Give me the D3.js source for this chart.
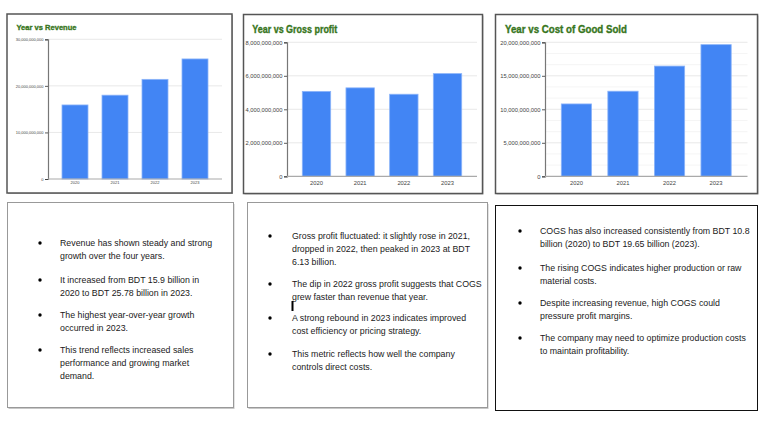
<!DOCTYPE html>
<html>
<head>
<meta charset="utf-8">
<script src="https://cdn.jsdelivr.net/npm/d3@7"></script>
<style>
  body { margin: 0; background: #fff; }
  svg { display: block; font-family: "Liberation Sans", Arial, sans-serif; }
</style>
</head>
<body>
<svg id="chart" width="768" height="432"></svg>
<script>
const years = ["2020", "2021", "2022", "2023"];
const revenue = [15.9e9, 18.0e9, 21.4e9, 25.78e9];
const grossProfit = [5.07e9, 5.28e9, 4.9e9, 6.13e9];
const cogs = [10.8e9, 12.7e9, 16.45e9, 19.65e9];

const revenueTicks = [0, 10e9, 20e9, 30e9];
const profitTicks = [0, 2e9, 4e9, 6e9, 8e9];
const cogsTicks = [0, 5e9, 10e9, 15e9, 20e9];

const titles = ["Year vs Revenue", "Year vs Gross profit", "Year vs Cost of Good Sold"];

const revenueNotes = [
  ["Revenue has shown steady and strong", "growth over the four years."],
  ["It increased from BDT 15.9 billion in", "2020 to BDT 25.78 billion in 2023."],
  ["The highest year-over-year growth", "occurred in 2023."],
  ["This trend reflects increased sales", "performance and growing market", "demand."]
];
const profitNotes = [
  ["Gross profit fluctuated: it slightly rose in 2021,", "dropped in 2022, then peaked in 2023 at BDT", "6.13 billion."],
  ["The dip in 2022 gross profit suggests that COGS", "grew faster than revenue that year."],
  ["A strong rebound in 2023 indicates improved", "cost efficiency or pricing strategy."],
  ["This metric reflects how well the company", "controls direct costs."]
];
const cogsNotes = [
  ["COGS has also increased consistently from BDT 10.8", "billion (2020) to BDT 19.65 billion (2023)."],
  ["The rising COGS indicates higher production or raw", "material costs."],
  ["Despite increasing revenue, high COGS could", "pressure profit margins."],
  ["The company may need to optimize production costs", "to maintain profitability."]
];

const svg = d3.select("#chart");
svg.append("rect").attr("width", 768).attr("height", 432).attr("fill", "#fff");

const fmt = d3.format(",");

// chart panels
const charts = [
  { values: revenue, ticks: revenueTicks, title: titles[0],
    box: [7, 14, 225, 179], x0: 48, x1: 222, yTop: 39.3, yBot: 179,
    titleX: 16.5, titleY: 30, titleSize: 8, titleW: 60, tickSize: 4, xLabY: 184, minor: 1 },
  { values: grossProfit, ticks: profitTicks, title: titles[1],
    box: [243.5, 14.5, 239, 179], x0: 287, x1: 477, yTop: 42.3, yBot: 176.3,
    titleX: 252.3, titleY: 32.8, titleSize: 10.5, titleW: 85, tickSize: 5.8, xLabY: 185, minor: 1 },
  { values: cogs, ticks: cogsTicks, title: titles[2],
    box: [495.5, 14.5, 262, 179], x0: 545, x1: 747.5, yTop: 42.3, yBot: 176.3,
    titleX: 505, titleY: 32.8, titleSize: 10.5, titleW: 122, tickSize: 5.8, xLabY: 185, minor: 3 }
];

charts.forEach(c => {
  const g = svg.append("g");
  g.append("rect")
    .attr("x", c.box[0] + 1).attr("y", c.box[1] + 1)
    .attr("width", c.box[2]).attr("height", c.box[3])
    .attr("fill", "#bbb");
  g.append("rect")
    .attr("x", c.box[0]).attr("y", c.box[1])
    .attr("width", c.box[2]).attr("height", c.box[3])
    .attr("fill", "#fff").attr("stroke", "#555").attr("stroke-width", 1.5);

  g.append("text")
    .attr("x", c.titleX).attr("y", c.titleY)
    .attr("font-size", c.titleSize).attr("font-weight", "bold")
    .attr("fill", "#38761d").attr("stroke", "#38761d").attr("stroke-width", 0.35)
    .attr("textLength", c.titleW).attr("lengthAdjust", "spacingAndGlyphs")
    .text(c.title);

  const maxV = c.ticks[c.ticks.length - 1];
  const y = d3.scaleLinear().domain([0, maxV]).range([c.yBot, c.yTop]);
  const x = d3.scaleBand().domain(years).range([c.x0, c.x1])
    .paddingInner(0.35).paddingOuter(0.35);

  // minor gridlines
  if (c.minor > 1) {
    const stepV = c.ticks[1] - c.ticks[0];
    const minors = [];
    for (let i = 0; i < c.ticks.length - 1; i++)
      for (let k = 1; k < c.minor; k++) minors.push(c.ticks[i] + stepV * k / c.minor);
    g.selectAll(".minor").data(minors).enter().append("line")
      .attr("x1", c.x0).attr("x2", c.x1)
      .attr("y1", d => y(d)).attr("y2", d => y(d))
      .attr("stroke", "#f2f2f2").attr("stroke-width", 0.8);
  }

  // major gridlines
  g.selectAll(".grid").data(c.ticks.slice(1)).enter().append("line")
    .attr("x1", c.x0).attr("x2", c.x1)
    .attr("y1", d => y(d)).attr("y2", d => y(d))
    .attr("stroke", "#e2e2e2").attr("stroke-width", 0.8);

  // y axis
  const yAxis = g.append("g")
    .attr("transform", `translate(${c.x0},0)`)
    .call(d3.axisLeft(y).tickValues(c.ticks).tickFormat(fmt).tickSize(3).tickPadding(1.5));
  yAxis.select(".domain").attr("stroke", "#777").attr("stroke-width", 1.2);
  yAxis.selectAll(".tick line").attr("stroke", "#333").attr("stroke-width", 0.8);
  yAxis.selectAll(".tick text")
    .attr("font-size", c.tickSize).attr("fill", "#444")
    .attr("font-family", "'Liberation Sans', Arial, sans-serif");

  // bars
  g.selectAll(".bar").data(c.values).enter().append("rect")
    .attr("x", (d, i) => x(years[i]))
    .attr("y", d => y(d))
    .attr("width", x.bandwidth())
    .attr("height", d => c.yBot - y(d))
    .attr("fill", "#4285f4")
    .attr("stroke", "#8cb4f9").attr("stroke-width", 0.8);

  // baseline
  g.append("line")
    .attr("x1", c.x0).attr("x2", c.x1)
    .attr("y1", c.yBot).attr("y2", c.yBot)
    .attr("stroke", "#aaa").attr("stroke-width", 1.2);

  // x labels
  g.selectAll(".xl").data(years).enter().append("text")
    .attr("x", d => x(d) + x.bandwidth() / 2)
    .attr("y", c.xLabY)
    .attr("text-anchor", "middle")
    .attr("font-size", c.tickSize).attr("fill", "#444")
    .text(d => d);
});

// note panels
const notes = [
  { items: revenueNotes, box: [7.5, 202.5, 226, 205], stroke: "#999", shadow: true,
    bulletX: 40, textX: 60, fontSize: 8.8, starts: [243, 280, 315, 350] },
  { items: profitNotes, box: [247.5, 202.5, 240, 205], stroke: "#999", shadow: true,
    bulletX: 270, textX: 292, fontSize: 8.8, starts: [236, 284, 318, 354] },
  { items: cogsNotes, box: [495.5, 205.5, 262, 205], stroke: "#111", shadow: false,
    bulletX: 520, textX: 540, fontSize: 8.8, starts: [231, 268, 303, 338] }
];

notes.forEach(n => {
  const g = svg.append("g");
  if (n.shadow) {
    g.append("rect")
      .attr("x", n.box[0] + 1).attr("y", n.box[1] + 1.5)
      .attr("width", n.box[2]).attr("height", n.box[3])
      .attr("fill", "#c8c8c8");
  }
  g.append("rect")
    .attr("x", n.box[0]).attr("y", n.box[1])
    .attr("width", n.box[2]).attr("height", n.box[3])
    .attr("fill", "#fff").attr("stroke", n.stroke).attr("stroke-width", 1);

  n.items.forEach((lines, i) => {
    const y0 = n.starts[i];
    g.append("circle")
      .attr("cx", n.bulletX).attr("cy", y0)
      .attr("r", 1.7).attr("fill", "#000");
    const t = g.append("text")
      .attr("font-size", n.fontSize).attr("fill", "#1a1a1a");
    lines.forEach((line, j) => {
      t.append("tspan")
        .attr("x", n.textX)
        .attr("y", y0 + 3 + j * 13)
        .text(line);
    });
  });
});

// text cursor in the middle panel
svg.append("rect")
  .attr("x", 291.5).attr("y", 301).attr("width", 2).attr("height", 10)
  .attr("fill", "#000");
</script>
</body>
</html>
